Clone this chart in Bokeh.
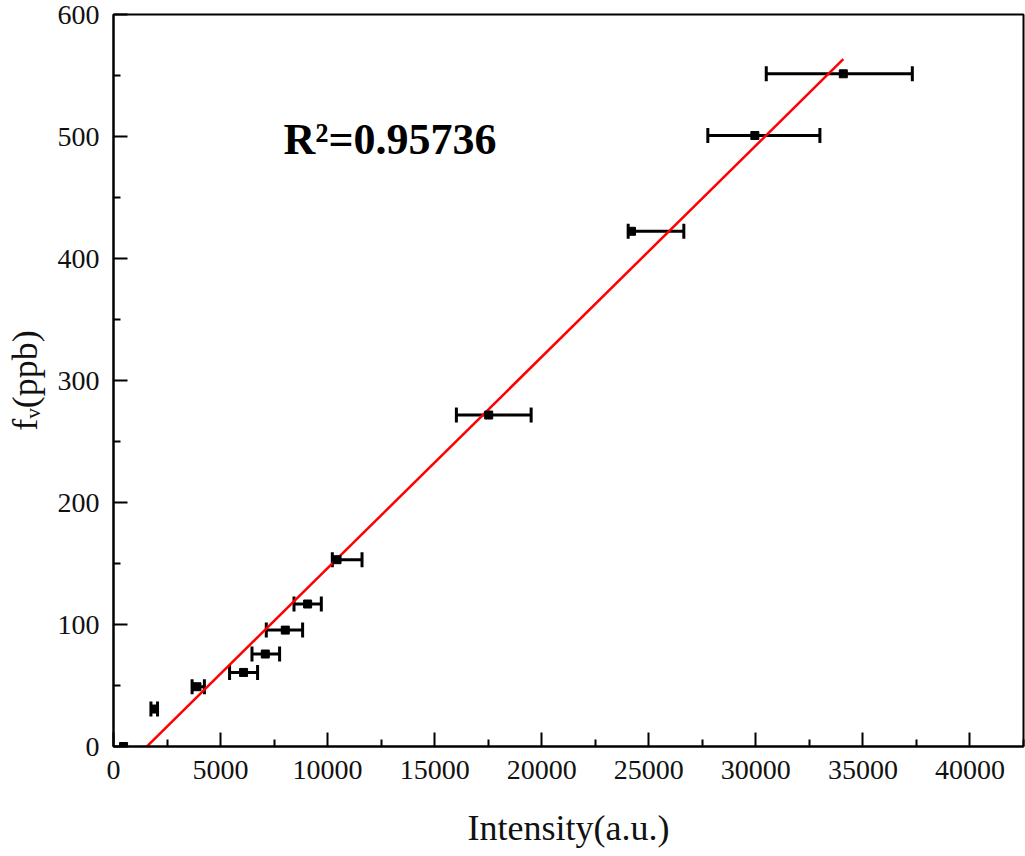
import numpy as np
from bokeh.plotting import figure
from bokeh.models import ColumnDataSource, Whisker, TeeHead, FixedTicker, Label, Range1d
from bokeh.embed import file_html
from bokeh.resources import INLINE

# Calibration points: mean intensity, concentration and the spread of intensity
intensity = [470, 1916, 3897, 6075, 7089, 8023, 9066, 10439, 17523, 24192, 29953, 34084]
conc_ppb = [0, 30.7, 49, 60.7, 75.8, 95.4, 116.8, 153.1, 271.7, 422.3, 500.8, 551.4]
intensity_lo = [470, 1748, 3670, 5421, 6467, 7136, 8430, 10220, 16014, 24037, 27757, 30486]
intensity_hi = [470, 2056, 4245, 6729, 7757, 8832, 9706, 11607, 19505, 26636, 32991, 37308]

# Linear fit parameters
fit_intercept = -27.0
fit_slope = 0.01732
r_squared = "0.95736"

x_ticks = [0, 5000, 10000, 15000, 20000, 25000, 30000, 35000, 40000]
y_ticks = [0, 100, 200, 300, 400, 500, 600]

X_END = 42500
Y_END = 600
W, H = 1025, 856
B_LEFT, B_RIGHT, B_TOP, B_BOTTOM = 113, 2, 14, 110
FRAME_W = W - B_LEFT - B_RIGHT
FRAME_H = H - B_TOP - B_BOTTOM

SERIF = "Liberation Serif"

p = figure(width=W, height=H, output_backend="svg", toolbar_location=None,
           x_range=Range1d(0, X_END), y_range=Range1d(0, Y_END),
           min_border_left=B_LEFT, min_border_right=B_RIGHT,
           min_border_top=B_TOP, min_border_bottom=B_BOTTOM)
p.background_fill_color = "white"
p.border_fill_color = "white"
p.xgrid.visible = False
p.ygrid.visible = False
p.outline_line_color = "black"
p.outline_line_width = 2
p.outline_line_alpha = 1.0

x_minor = [t + 2500 for t in x_ticks]
y_minor = [t + 50 for t in y_ticks[:-1]]
p.xaxis.ticker = FixedTicker(ticks=x_ticks, minor_ticks=x_minor)
p.yaxis.ticker = FixedTicker(ticks=y_ticks, minor_ticks=y_minor)

for ax in (p.xaxis[0], p.yaxis[0]):
    ax.axis_line_width = 2
    ax.axis_line_color = "black"
    ax.major_tick_in = 14
    ax.major_tick_out = 0
    ax.minor_tick_in = 7
    ax.minor_tick_out = 0
    ax.major_tick_line_width = 2
    ax.minor_tick_line_width = 2
    ax.major_tick_line_color = "black"
    ax.minor_tick_line_color = "black"
    ax.major_label_text_font = SERIF
    ax.major_label_text_font_size = "28px"
    ax.major_label_text_color = "#111111"
    ax.major_label_standoff = 14
    ax.axis_label_text_font = SERIF
    ax.axis_label_text_font_size = "36px"
    ax.axis_label_text_font_style = "normal"
    ax.axis_label_text_color = "#111111"

p.xaxis.axis_label = "Intensity(a.u.)"
p.xaxis.axis_label_standoff = 26

p.yaxis.axis_label = "f\u1d65(ppb)"
p.yaxis.axis_label_standoff = 10

# Error bars (points with a spread only)
has_spread = [hi > lo for lo, hi in zip(intensity_lo, intensity_hi)]
err_src = ColumnDataSource(dict(
    y=[v for v, s in zip(conc_ppb, has_spread) if s],
    lo=[v for v, s in zip(intensity_lo, has_spread) if s],
    hi=[v for v, s in zip(intensity_hi, has_spread) if s],
))
whisker = Whisker(source=err_src, base="y", lower="lo", upper="hi", dimension="width",
                  line_color="black", line_width=3,
                  lower_head=TeeHead(size=15, line_width=3, line_color="black"),
                  upper_head=TeeHead(size=15, line_width=3, line_color="black"))
p.add_layout(whisker)

# Fitted line over the measured range
fx = np.array([min(intensity), max(intensity)], dtype=float)
fy = fit_intercept + fit_slope * fx
p.line(fx, fy, line_color="#ff0000", line_width=2.5)

p.scatter(intensity, conc_ppb, marker="square", size=8, color="black")

# Conversion of pixel offsets (relative to the frame) to data units
px_x = X_END / FRAME_W
px_y = Y_END / FRAME_H

def to_data(sx, sy):
    return (sx - B_LEFT) * px_x, (B_TOP + FRAME_H - sy) * px_y

# Coefficient of determination
rx, ry = to_data(283, 139)
p.add_layout(Label(x=rx, y=ry, text="R\u00b2=" + r_squared, text_font=SERIF,
                   text_font_size="44px", text_font_style="bold", text_color="black",
                   text_align="left", text_baseline="alphabetic"))

open("out.html", "w").write(file_html(p, INLINE))
